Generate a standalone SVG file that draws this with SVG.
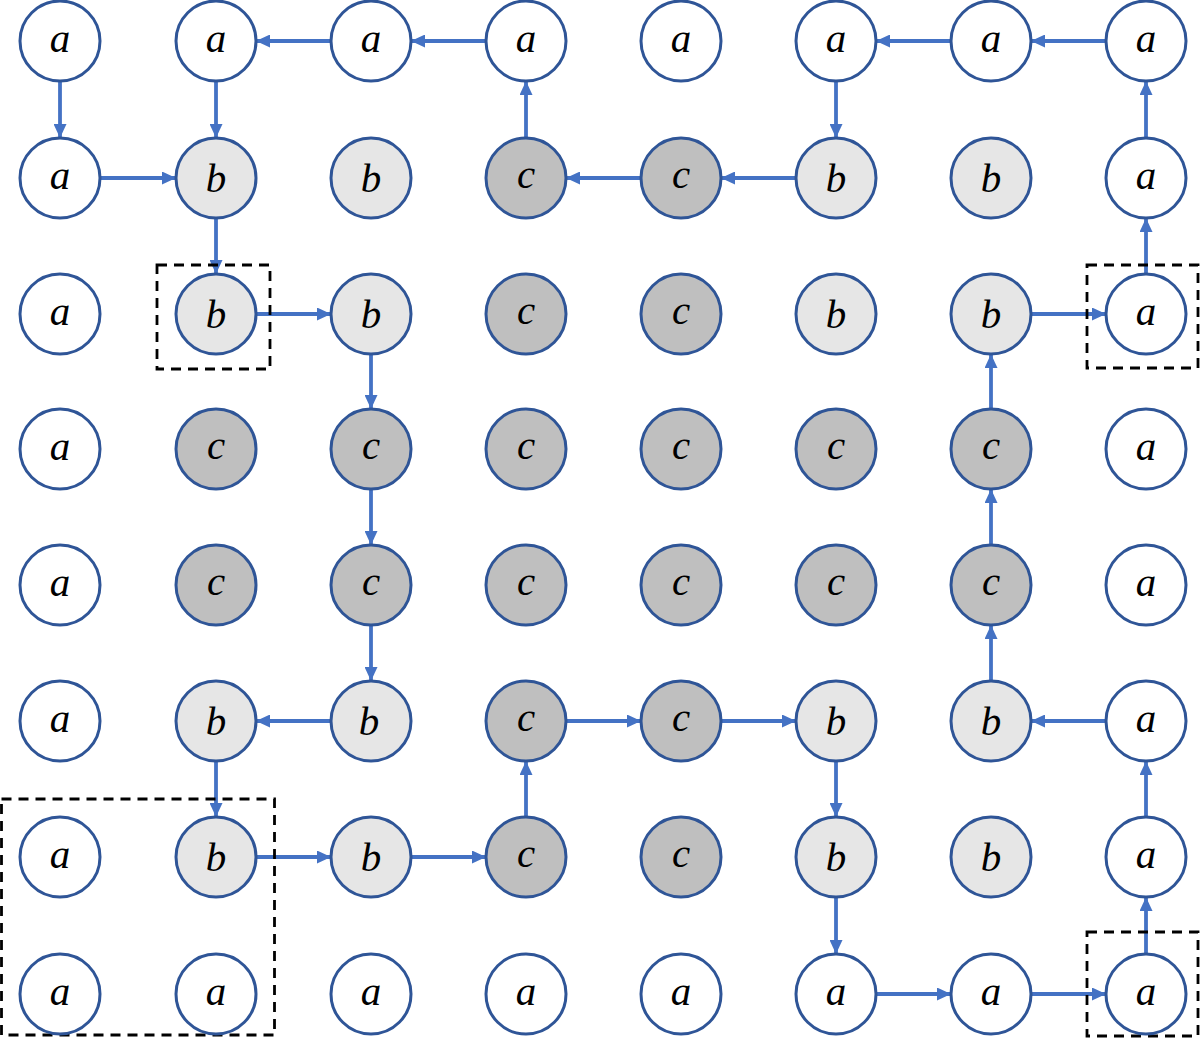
<svg xmlns="http://www.w3.org/2000/svg" width="1200" height="1038" viewBox="0 0 1200 1038">
<style>
.n{stroke:#2F5597;stroke-width:3}
.a{fill:#FFFFFF}
.b{fill:#E6E6E6}
.c{fill:#BFBFBF}
.t{font-family:"Liberation Serif","Times New Roman",serif;font-style:italic;font-size:41px;fill:#000;text-anchor:middle}
.e{stroke:#4472C4;stroke-width:3.8;fill:none;marker-end:url(#ah)}
.box{fill:none;stroke:#000;stroke-width:2.8;stroke-dasharray:10,7}
</style>
<defs>
<marker id="ah" markerUnits="userSpaceOnUse" markerWidth="14" markerHeight="13" refX="14" refY="6.5" orient="auto">
<path d="M0,0 L14,6.5 L0,13 z" fill="#4472C4"/>
</marker>
</defs>
<rect width="1200" height="1038" fill="#FFFFFF"/>
<g id="connectors">
<line class="e" x1="60" y1="81" x2="60" y2="138"/>
<line class="e" x1="216" y1="81" x2="216" y2="138"/>
<line class="e" x1="331" y1="41" x2="256" y2="41"/>
<line class="e" x1="486" y1="41" x2="411" y2="41"/>
<line class="e" x1="526" y1="138" x2="526" y2="81"/>
<line class="e" x1="641" y1="178" x2="566" y2="178"/>
<line class="e" x1="796" y1="178" x2="721" y2="178"/>
<line class="e" x1="836" y1="81" x2="836" y2="138"/>
<line class="e" x1="951" y1="41" x2="876" y2="41"/>
<line class="e" x1="1106" y1="41" x2="1031" y2="41"/>
<line class="e" x1="1146" y1="138" x2="1146" y2="81"/>
<line class="e" x1="1146" y1="274" x2="1146" y2="218"/>
<line class="e" x1="100" y1="178" x2="176" y2="178"/>
<line class="e" x1="216" y1="218" x2="216" y2="274"/>
<line class="e" x1="256" y1="314" x2="331" y2="314"/>
<line class="e" x1="371" y1="354" x2="371" y2="409"/>
<line class="e" x1="371" y1="489" x2="371" y2="545"/>
<line class="e" x1="371" y1="625" x2="371" y2="681"/>
<line class="e" x1="331" y1="721" x2="256" y2="721"/>
<line class="e" x1="216" y1="761" x2="216" y2="817"/>
<line class="e" x1="256" y1="857" x2="331" y2="857"/>
<line class="e" x1="411" y1="857" x2="486" y2="857"/>
<line class="e" x1="526" y1="817" x2="526" y2="761"/>
<line class="e" x1="566" y1="721" x2="641" y2="721"/>
<line class="e" x1="721" y1="721" x2="796" y2="721"/>
<line class="e" x1="836" y1="761" x2="836" y2="817"/>
<line class="e" x1="836" y1="897" x2="836" y2="954"/>
<line class="e" x1="876" y1="994" x2="951" y2="994"/>
<line class="e" x1="1031" y1="994" x2="1106" y2="994"/>
<line class="e" x1="1146" y1="954" x2="1146" y2="897"/>
<line class="e" x1="1146" y1="817" x2="1146" y2="761"/>
<line class="e" x1="1106" y1="721" x2="1031" y2="721"/>
<line class="e" x1="991" y1="681" x2="991" y2="625"/>
<line class="e" x1="991" y1="545" x2="991" y2="489"/>
<line class="e" x1="991" y1="409" x2="991" y2="354"/>
<line class="e" x1="1031" y1="314" x2="1106" y2="314"/>
</g>
<g id="boxes">
<rect class="box" x="157" y="265" width="113" height="104"/>
<rect class="box" x="1087" y="265" width="111" height="103"/>
<rect class="box" x="1.5" y="799" width="273" height="236"/>
<rect class="box" x="1087" y="932" width="111" height="104"/>
</g>
<g id="n0_0"><circle class="n a" cx="60" cy="41" r="40"/><text class="t" x="60" y="52">a</text></g>
<g id="n0_1"><circle class="n a" cx="216" cy="41" r="40"/><text class="t" x="216" y="52">a</text></g>
<g id="n0_2"><circle class="n a" cx="371" cy="41" r="40"/><text class="t" x="371" y="52">a</text></g>
<g id="n0_3"><circle class="n a" cx="526" cy="41" r="40"/><text class="t" x="526" y="52">a</text></g>
<g id="n0_4"><circle class="n a" cx="681" cy="41" r="40"/><text class="t" x="681" y="52">a</text></g>
<g id="n0_5"><circle class="n a" cx="836" cy="41" r="40"/><text class="t" x="836" y="52">a</text></g>
<g id="n0_6"><circle class="n a" cx="991" cy="41" r="40"/><text class="t" x="991" y="52">a</text></g>
<g id="n0_7"><circle class="n a" cx="1146" cy="41" r="40"/><text class="t" x="1146" y="52">a</text></g>
<g id="n1_0"><circle class="n a" cx="60" cy="178" r="40"/><text class="t" x="60" y="189">a</text></g>
<g id="n1_1"><circle class="n b" cx="216" cy="178" r="40"/><text class="t" x="216" y="192">b</text></g>
<g id="n1_2"><circle class="n b" cx="371" cy="178" r="40"/><text class="t" x="371" y="192">b</text></g>
<g id="n1_3"><circle class="n c" cx="526" cy="178" r="40"/><text class="t" x="526" y="188">c</text></g>
<g id="n1_4"><circle class="n c" cx="681" cy="178" r="40"/><text class="t" x="681" y="188">c</text></g>
<g id="n1_5"><circle class="n b" cx="836" cy="178" r="40"/><text class="t" x="836" y="192">b</text></g>
<g id="n1_6"><circle class="n b" cx="991" cy="178" r="40"/><text class="t" x="991" y="192">b</text></g>
<g id="n1_7"><circle class="n a" cx="1146" cy="178" r="40"/><text class="t" x="1146" y="189">a</text></g>
<g id="n2_0"><circle class="n a" cx="60" cy="314" r="40"/><text class="t" x="60" y="325">a</text></g>
<g id="n2_1"><circle class="n b" cx="216" cy="314" r="40"/><text class="t" x="216" y="328">b</text></g>
<g id="n2_2"><circle class="n b" cx="371" cy="314" r="40"/><text class="t" x="371" y="328">b</text></g>
<g id="n2_3"><circle class="n c" cx="526" cy="314" r="40"/><text class="t" x="526" y="324">c</text></g>
<g id="n2_4"><circle class="n c" cx="681" cy="314" r="40"/><text class="t" x="681" y="324">c</text></g>
<g id="n2_5"><circle class="n b" cx="836" cy="314" r="40"/><text class="t" x="836" y="328">b</text></g>
<g id="n2_6"><circle class="n b" cx="991" cy="314" r="40"/><text class="t" x="991" y="328">b</text></g>
<g id="n2_7"><circle class="n a" cx="1146" cy="314" r="40"/><text class="t" x="1146" y="325">a</text></g>
<g id="n3_0"><circle class="n a" cx="60" cy="449" r="40"/><text class="t" x="60" y="460">a</text></g>
<g id="n3_1"><circle class="n c" cx="216" cy="449" r="40"/><text class="t" x="216" y="459">c</text></g>
<g id="n3_2"><circle class="n c" cx="371" cy="449" r="40"/><text class="t" x="371" y="459">c</text></g>
<g id="n3_3"><circle class="n c" cx="526" cy="449" r="40"/><text class="t" x="526" y="459">c</text></g>
<g id="n3_4"><circle class="n c" cx="681" cy="449" r="40"/><text class="t" x="681" y="459">c</text></g>
<g id="n3_5"><circle class="n c" cx="836" cy="449" r="40"/><text class="t" x="836" y="459">c</text></g>
<g id="n3_6"><circle class="n c" cx="991" cy="449" r="40"/><text class="t" x="991" y="459">c</text></g>
<g id="n3_7"><circle class="n a" cx="1146" cy="449" r="40"/><text class="t" x="1146" y="460">a</text></g>
<g id="n4_0"><circle class="n a" cx="60" cy="585" r="40"/><text class="t" x="60" y="596">a</text></g>
<g id="n4_1"><circle class="n c" cx="216" cy="585" r="40"/><text class="t" x="216" y="595">c</text></g>
<g id="n4_2"><circle class="n c" cx="371" cy="585" r="40"/><text class="t" x="371" y="595">c</text></g>
<g id="n4_3"><circle class="n c" cx="526" cy="585" r="40"/><text class="t" x="526" y="595">c</text></g>
<g id="n4_4"><circle class="n c" cx="681" cy="585" r="40"/><text class="t" x="681" y="595">c</text></g>
<g id="n4_5"><circle class="n c" cx="836" cy="585" r="40"/><text class="t" x="836" y="595">c</text></g>
<g id="n4_6"><circle class="n c" cx="991" cy="585" r="40"/><text class="t" x="991" y="595">c</text></g>
<g id="n4_7"><circle class="n a" cx="1146" cy="585" r="40"/><text class="t" x="1146" y="596">a</text></g>
<g id="n5_0"><circle class="n a" cx="60" cy="721" r="40"/><text class="t" x="60" y="732">a</text></g>
<g id="n5_1"><circle class="n b" cx="216" cy="721" r="40"/><text class="t" x="216" y="735">b</text></g>
<g id="n5_2"><circle class="n b" cx="371" cy="721" r="40"/><text class="t" x="369" y="735">b</text></g>
<g id="n5_3"><circle class="n c" cx="526" cy="721" r="40"/><text class="t" x="526" y="731">c</text></g>
<g id="n5_4"><circle class="n c" cx="681" cy="721" r="40"/><text class="t" x="681" y="731">c</text></g>
<g id="n5_5"><circle class="n b" cx="836" cy="721" r="40"/><text class="t" x="836" y="735">b</text></g>
<g id="n5_6"><circle class="n b" cx="991" cy="721" r="40"/><text class="t" x="991" y="735">b</text></g>
<g id="n5_7"><circle class="n a" cx="1146" cy="721" r="40"/><text class="t" x="1146" y="732">a</text></g>
<g id="n6_0"><circle class="n a" cx="60" cy="857" r="40"/><text class="t" x="60" y="868">a</text></g>
<g id="n6_1"><circle class="n b" cx="216" cy="857" r="40"/><text class="t" x="216" y="871">b</text></g>
<g id="n6_2"><circle class="n b" cx="371" cy="857" r="40"/><text class="t" x="371" y="871">b</text></g>
<g id="n6_3"><circle class="n c" cx="526" cy="857" r="40"/><text class="t" x="526" y="867">c</text></g>
<g id="n6_4"><circle class="n c" cx="681" cy="857" r="40"/><text class="t" x="681" y="867">c</text></g>
<g id="n6_5"><circle class="n b" cx="836" cy="857" r="40"/><text class="t" x="836" y="871">b</text></g>
<g id="n6_6"><circle class="n b" cx="991" cy="857" r="40"/><text class="t" x="991" y="871">b</text></g>
<g id="n6_7"><circle class="n a" cx="1146" cy="857" r="40"/><text class="t" x="1146" y="868">a</text></g>
<g id="n7_0"><circle class="n a" cx="60" cy="994" r="40"/><text class="t" x="60" y="1005">a</text></g>
<g id="n7_1"><circle class="n a" cx="216" cy="994" r="40"/><text class="t" x="216" y="1005">a</text></g>
<g id="n7_2"><circle class="n a" cx="371" cy="994" r="40"/><text class="t" x="371" y="1005">a</text></g>
<g id="n7_3"><circle class="n a" cx="526" cy="994" r="40"/><text class="t" x="526" y="1005">a</text></g>
<g id="n7_4"><circle class="n a" cx="681" cy="994" r="40"/><text class="t" x="681" y="1005">a</text></g>
<g id="n7_5"><circle class="n a" cx="836" cy="994" r="40"/><text class="t" x="836" y="1005">a</text></g>
<g id="n7_6"><circle class="n a" cx="991" cy="994" r="40"/><text class="t" x="991" y="1005">a</text></g>
<g id="n7_7"><circle class="n a" cx="1146" cy="994" r="40"/><text class="t" x="1146" y="1005">a</text></g>
</svg>
